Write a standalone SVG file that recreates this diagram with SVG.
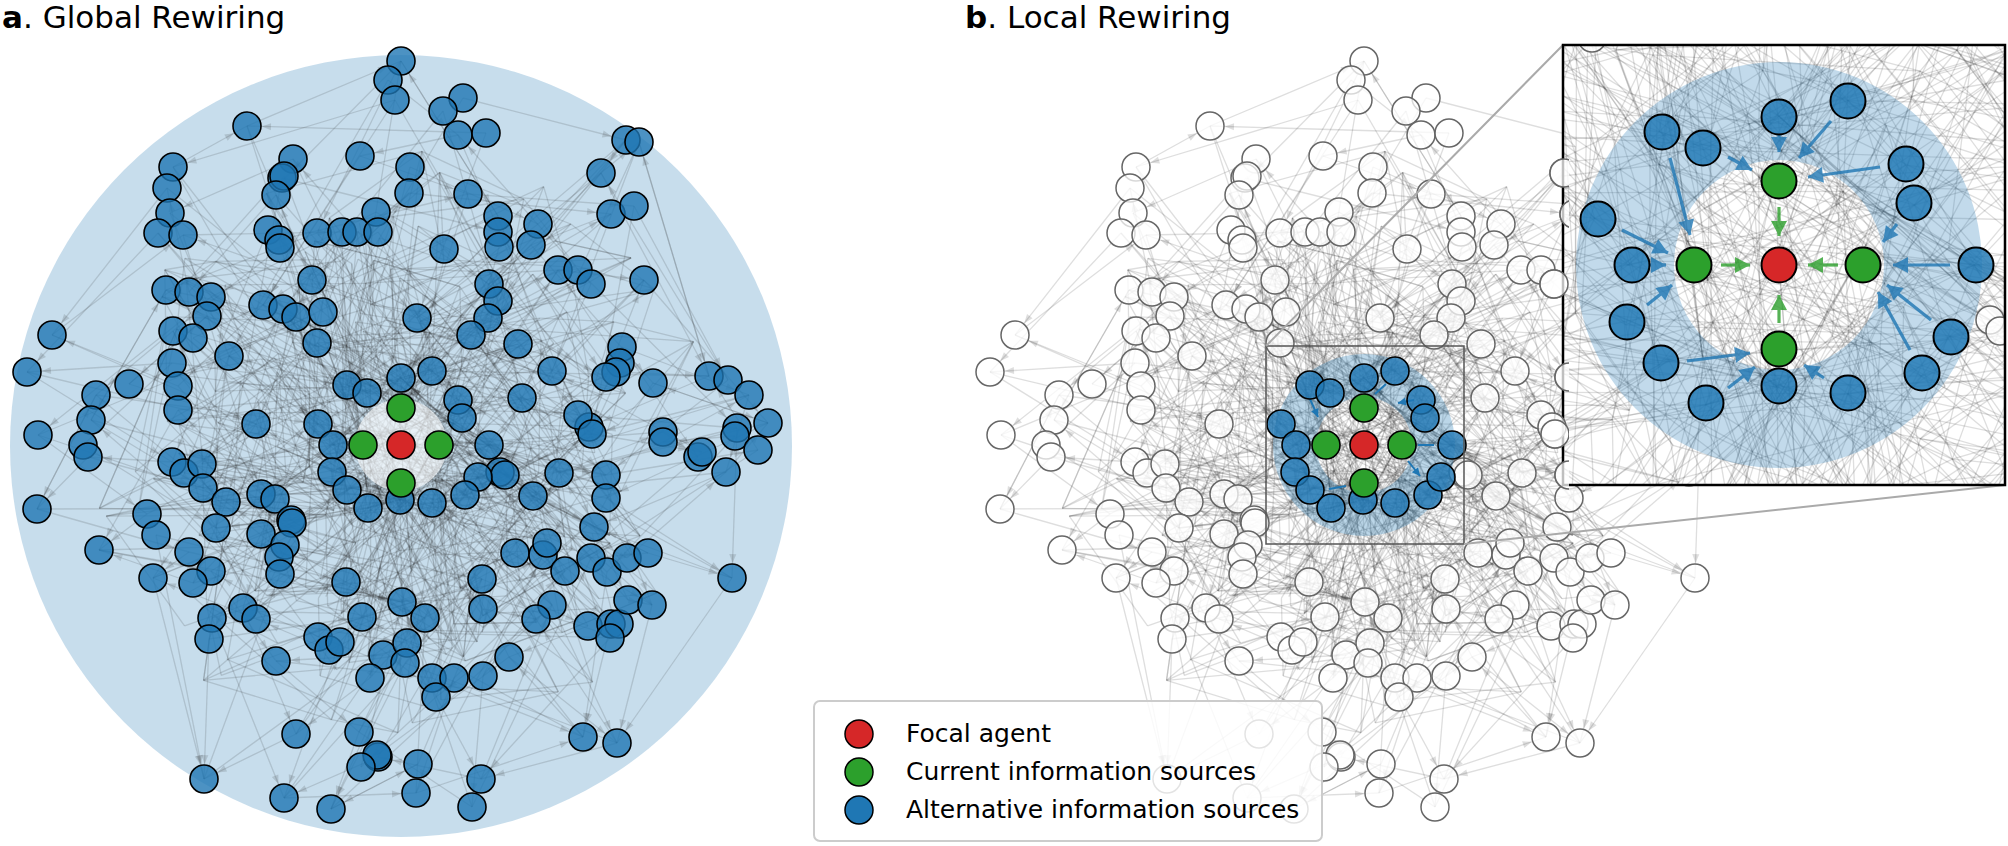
<svg xmlns="http://www.w3.org/2000/svg" xmlns:xlink="http://www.w3.org/1999/xlink" width="2008" height="846" viewBox="0 0 2008 846">
<style>
text{font-family:"DejaVu Sans","Liberation Sans",sans-serif;fill:#000}
.bn circle{fill:#1f77b4;fill-opacity:.8;stroke:#000;stroke-width:1.6}
.wn circle{fill:#fff;fill-opacity:.75;stroke:#666;stroke-width:1.5}
.gn circle{fill:#2ca02c;stroke:#000;stroke-width:1.6}
.rn circle{fill:#d62728;stroke:#000;stroke-width:1.6}
.ibn circle{fill:#1f77b4;fill-opacity:.82;stroke:#000;stroke-width:2}
.ign circle{fill:#2ca02c;stroke:#000;stroke-width:2}
.irn circle{fill:#d62728;stroke:#000;stroke-width:2}
#E path{vector-effect:non-scaling-stroke}
</style>
<defs>
<marker id="ah" markerUnits="userSpaceOnUse" markerWidth="1" markerHeight="1" orient="auto" overflow="visible"><path d="M-24-3.5L-15 0L-24 3.5z" fill="#222" fill-opacity=".15"/></marker>
<marker id="bh" markerUnits="userSpaceOnUse" markerWidth="1" markerHeight="1" orient="auto" overflow="visible"><path d="M-15-8L0 0L-15 8z" fill="#1f77b4"/></marker>
<marker id="gh" markerUnits="userSpaceOnUse" markerWidth="1" markerHeight="1" orient="auto" overflow="visible"><path d="M-15-8L0 0L-15 8z" fill="#2ca02c"/></marker>
<marker id="sh" markerUnits="userSpaceOnUse" markerWidth="1" markerHeight="1" orient="auto" overflow="visible"><path d="M-8-4L0 0L-8 4z" fill="#1f77b4"/></marker>
<clipPath id="ic"><rect x="1563" y="45" width="442" height="440"/></clipPath>
<clipPath id="lc"><rect x="1500" y="0" width="69" height="846"/></clipPath>
<g id="E" fill="none" stroke="#222" stroke-opacity=".15" stroke-width="1.3">
<path d="M401 61L283 180"/><path d="M401 61L498 216"/><path d="M401 61L347 385"/><path d="M388 80L229 356"/><path d="M388 80L458 135"/><path d="M395 100L552 371"/><path d="M395 100L173 167"/><path d="M463 98L317 343"/><path d="M463 98L626 140"/><path d="M443 111L283 309"/><path d="M443 111L498 301"/><path d="M458 135L360 156"/><path d="M458 135L578 415"/><path d="M486 133L417 318"/><path d="M486 133L247 126"/><path d="M626 140L489 284"/><path d="M626 140L601 173"/><path d="M626 140L432 371"/><path d="M639 142L522 398"/><path d="M639 142L709 376"/><path d="M247 126L401 61"/><path d="M247 126L312 280"/><path d="M360 156L263 305"/><path d="M360 156L468 194"/><path d="M410 167L332 472"/><path d="M410 167L538 224"/><path d="M173 167L283 309"/><path d="M173 167L247 126"/><path d="M293 159L401 378"/><path d="M293 159L170 213"/><path d="M282 178L498 232"/><path d="M282 178L216 528"/><path d="M284 176L367 393"/><path d="M276 195L189 292"/><path d="M276 195L458 400"/><path d="M167 188L323 312"/><path d="M167 188L52 335"/><path d="M170 213L296 317"/><path d="M170 213L229 356"/><path d="M158 233L318 424"/><path d="M158 233L27 372"/><path d="M183 235L261 494"/><path d="M183 235L342 232"/><path d="M268 230L432 371"/><path d="M268 230L172 462"/><path d="M279 240L468 194"/><path d="M279 240L347 490"/><path d="M280 248L173 331"/><path d="M317 233L533 496"/><path d="M317 233L166 290"/><path d="M342 232L256 424"/><path d="M342 232L417 318"/><path d="M357 232L400 500"/><path d="M357 232L293 159"/><path d="M376 212L489 284"/><path d="M376 212L211 297"/><path d="M378 232L263 305"/><path d="M378 232L559 473"/><path d="M409 193L312 280"/><path d="M409 193L611 214"/><path d="M601 173L498 301"/><path d="M601 173L709 376"/><path d="M468 194L368 508"/><path d="M468 194L634 206"/><path d="M611 214L471 335"/><path d="M611 214L531 245"/><path d="M634 206L592 434"/><path d="M634 206L728 380"/><path d="M498 216L283 309"/><path d="M498 216L401 61"/><path d="M498 232L606 377"/><path d="M498 232L347 385"/><path d="M499 247L432 503"/><path d="M538 224L417 318"/><path d="M538 224L639 142"/><path d="M531 245L333 445"/><path d="M531 245L653 383"/><path d="M444 249L229 356"/><path d="M444 249L578 415"/><path d="M558 270L462 418"/><path d="M558 270L644 280"/><path d="M578 270L488 318"/><path d="M578 270L737 428"/><path d="M591 284L505 475"/><path d="M591 284L458 135"/><path d="M644 280L552 371"/><path d="M644 280L768 423"/><path d="M312 280L478 477"/><path d="M312 280L183 235"/><path d="M166 290L296 317"/><path d="M166 290L91 420"/><path d="M189 292L318 424"/><path d="M189 292L167 188"/><path d="M211 297L367 393"/><path d="M211 297L38 435"/><path d="M207 316L332 472"/><path d="M207 316L129 384"/><path d="M263 305L432 371"/><path d="M263 305L178 386"/><path d="M283 309L462 418"/><path d="M283 309L226 502"/><path d="M296 317L347 490"/><path d="M296 317L409 193"/><path d="M323 312L401 378"/><path d="M323 312L276 195"/><path d="M317 343L489 445"/><path d="M317 343L202 464"/><path d="M317 343L471 335"/><path d="M173 331L261 494"/><path d="M173 331L96 395"/><path d="M193 338L333 445"/><path d="M193 338L263 305"/><path d="M229 356L400 500"/><path d="M229 356L318 424"/><path d="M229 356L184 473"/><path d="M172 363L347 385"/><path d="M172 363L27 372"/><path d="M178 386L275 499"/><path d="M178 386L52 335"/><path d="M178 410L367 393"/><path d="M178 410L99 550"/><path d="M129 384L256 424"/><path d="M129 384L207 316"/><path d="M96 395L226 502"/><path d="M96 395L37 509"/><path d="M91 420L203 488"/><path d="M91 420L166 290"/><path d="M52 335L183 235"/><path d="M52 335L256 424"/><path d="M27 372L172 462"/><path d="M38 435L147 514"/><path d="M38 435L229 356"/><path d="M256 424L432 371"/><path d="M256 424L291 520"/><path d="M256 424L153 578"/><path d="M318 424L489 445"/><path d="M318 424L283 309"/><path d="M318 424L261 534"/><path d="M347 385L500 472"/><path d="M347 385L226 502"/><path d="M367 393L465 495"/><path d="M367 393L229 356"/><path d="M367 393L522 398"/><path d="M401 378L296 317"/><path d="M401 378L505 475"/><path d="M401 378L318 424"/><path d="M489 284L400 500"/><path d="M489 284L611 214"/><path d="M498 301L347 490"/><path d="M498 301L558 270"/><path d="M488 318L333 445"/><path d="M488 318L606 377"/><path d="M471 335L367 393"/><path d="M471 335L592 434"/><path d="M417 318L458 400"/><path d="M417 318L312 280"/><path d="M518 344L401 378"/><path d="M518 344L594 527"/><path d="M622 347L478 477"/><path d="M622 347L749 395"/><path d="M620 363L432 503"/><path d="M620 363L558 270"/><path d="M616 372L533 496"/><path d="M616 372L709 376"/><path d="M606 377L462 418"/><path d="M606 377L644 280"/><path d="M653 383L547 543"/><path d="M653 383L768 423"/><path d="M709 376L589 427"/><path d="M709 376L639 142"/><path d="M728 380L606 475"/><path d="M728 380L601 173"/><path d="M749 395L592 434"/><path d="M749 395L726 472"/><path d="M768 423L606 498"/><path d="M768 423L653 383"/><path d="M737 428L578 415"/><path d="M737 428L732 578"/><path d="M663 432L489 445"/><path d="M663 432L698 457"/><path d="M589 427L368 508"/><path d="M589 427L622 347"/><path d="M578 415L432 371"/><path d="M578 415L652 605"/><path d="M552 371L400 500"/><path d="M552 371L498 216"/><path d="M522 398L333 445"/><path d="M522 398L606 475"/><path d="M432 371L368 508"/><path d="M432 371L518 344"/><path d="M458 400L332 472"/><path d="M458 400L578 415"/><path d="M462 418L347 385"/><path d="M462 418L543 555"/><path d="M83 445L216 528"/><path d="M83 445L172 363"/><path d="M88 457L203 488"/><path d="M88 457L37 509"/><path d="M37 509L189 552"/><path d="M37 509L96 395"/><path d="M99 550L285 545"/><path d="M99 550L211 571"/><path d="M147 514L318 424"/><path d="M147 514L99 550"/><path d="M156 535L346 582"/><path d="M156 535L204 779"/><path d="M172 462L347 490"/><path d="M172 462L88 457"/><path d="M184 473L400 500"/><path d="M184 473L256 424"/><path d="M202 464L333 445"/><path d="M202 464L283 309"/><path d="M203 488L362 617"/><path d="M203 488L229 356"/><path d="M226 502L432 503"/><path d="M226 502L193 583"/><path d="M216 528L368 508"/><path d="M216 528L91 420"/><path d="M189 552L402 602"/><path d="M189 552L153 578"/><path d="M211 571L347 490"/><path d="M211 571L276 661"/><path d="M193 583L275 499"/><path d="M193 583L99 550"/><path d="M153 578L291 520"/><path d="M153 578L204 779"/><path d="M261 494L465 495"/><path d="M261 494L178 410"/><path d="M275 499L401 378"/><path d="M275 499L243 608"/><path d="M291 520L432 503"/><path d="M291 520L216 528"/><path d="M292 523L500 472"/><path d="M261 534L400 500"/><path d="M261 534L209 639"/><path d="M285 545L482 579"/><path d="M285 545L226 502"/><path d="M279 557L425 618"/><path d="M279 557L173 331"/><path d="M280 574L402 602"/><path d="M280 574L212 618"/><path d="M243 608L368 508"/><path d="M243 608L296 734"/><path d="M256 619L407 643"/><path d="M256 619L153 578"/><path d="M212 618L346 582"/><path d="M212 618L284 798"/><path d="M209 639L362 617"/><path d="M209 639L204 779"/><path d="M276 661L432 678"/><path d="M276 661L359 732"/><path d="M318 637L478 477"/><path d="M318 637L211 571"/><path d="M329 650L482 579"/><path d="M329 650L256 619"/><path d="M340 642L465 495"/><path d="M340 642L284 798"/><path d="M346 582L500 472"/><path d="M346 582L285 545"/><path d="M362 617L515 553"/><path d="M362 617L332 472"/><path d="M383 655L543 555"/><path d="M383 655L276 661"/><path d="M370 678L533 496"/><path d="M370 678L296 734"/><path d="M402 602L432 503"/><path d="M402 602L565 571"/><path d="M407 643L347 490"/><path d="M407 643L481 779"/><path d="M405 663L589 427"/><path d="M405 663L331 809"/><path d="M333 445L462 418"/><path d="M333 445L261 494"/><path d="M332 472L478 477"/><path d="M332 472L256 424"/><path d="M347 490L458 400"/><path d="M347 490L291 520"/><path d="M368 508L489 445"/><path d="M368 508L346 582"/><path d="M400 500L533 496"/><path d="M400 500L367 393"/><path d="M400 500L402 602"/><path d="M296 734L362 617"/><path d="M296 734L204 779"/><path d="M359 732L425 618"/><path d="M359 732L331 809"/><path d="M378 757L482 579"/><path d="M378 757L284 798"/><path d="M377 755L509 657"/><path d="M361 767L402 602"/><path d="M204 779L280 574"/><path d="M284 798L383 655"/><path d="M284 798L416 793"/><path d="M331 809L407 643"/><path d="M331 809L418 764"/><path d="M489 445L347 490"/><path d="M489 445L606 475"/><path d="M489 445L417 318"/><path d="M500 472L368 508"/><path d="M500 472L594 527"/><path d="M505 475L401 378"/><path d="M478 477L333 445"/><path d="M478 477L552 605"/><path d="M465 495L318 424"/><path d="M465 495L591 558"/><path d="M432 503L318 424"/><path d="M432 503L536 619"/><path d="M533 496L401 378"/><path d="M533 496L648 553"/><path d="M559 473L432 371"/><path d="M559 473L663 432"/><path d="M592 434L465 495"/><path d="M592 434L702 452"/><path d="M606 475L432 503"/><path d="M606 475L758 450"/><path d="M606 498L478 477"/><path d="M606 498L732 578"/><path d="M594 527L462 418"/><path d="M594 527L628 600"/><path d="M663 442L533 496"/><path d="M663 442L749 395"/><path d="M698 457L565 571"/><path d="M698 457L622 347"/><path d="M702 452L552 371"/><path d="M735 436L607 572"/><path d="M735 436L663 442"/><path d="M758 450L591 558"/><path d="M758 450L709 376"/><path d="M726 472L594 527"/><path d="M726 472L768 423"/><path d="M515 553L402 602"/><path d="M515 553L559 473"/><path d="M543 555L432 503"/><path d="M543 555L611 624"/><path d="M547 543L400 500"/><path d="M547 543L652 605"/><path d="M565 571L489 445"/><path d="M565 571L483 676"/><path d="M591 558L458 400"/><path d="M591 558L648 553"/><path d="M607 572L505 475"/><path d="M607 572L583 737"/><path d="M627 558L478 477"/><path d="M627 558L726 472"/><path d="M648 553L533 496"/><path d="M648 553L732 578"/><path d="M732 578L594 527"/><path d="M732 578L617 743"/><path d="M482 579L368 508"/><path d="M482 579L588 626"/><path d="M483 609L400 500"/><path d="M483 609L536 619"/><path d="M552 605L432 503"/><path d="M552 605L617 743"/><path d="M536 619L478 477"/><path d="M536 619L436 697"/><path d="M588 626L489 445"/><path d="M588 626L509 657"/><path d="M611 624L515 553"/><path d="M611 624L583 737"/><path d="M619 624L465 495"/><path d="M610 638L543 555"/><path d="M610 638L481 779"/><path d="M628 600L533 496"/><path d="M628 600L652 605"/><path d="M652 605L559 473"/><path d="M652 605L617 743"/><path d="M425 618L489 445"/><path d="M425 618L346 582"/><path d="M432 678L402 602"/><path d="M432 678L583 737"/><path d="M454 678L565 571"/><path d="M454 678L416 793"/><path d="M436 697L482 579"/><path d="M436 697L361 767"/><path d="M483 676L543 555"/><path d="M483 676L472 807"/><path d="M509 657L432 503"/><path d="M509 657L617 743"/><path d="M583 737L483 609"/><path d="M583 737L509 657"/><path d="M617 743L536 619"/><path d="M617 743L481 779"/><path d="M418 764L483 609"/><path d="M418 764L331 809"/><path d="M416 793L425 618"/><path d="M416 793L583 737"/><path d="M481 779L552 605"/><path d="M481 779L378 757"/><path d="M472 807L402 602"/><path d="M472 807L359 732"/><path d="M27 372L333 445"/><path d="M37 509L368 508"/><path d="M99 550L402 602"/><path d="M38 435L291 520"/><path d="M204 779L425 618"/><path d="M284 798L482 579"/><path d="M331 809L552 605"/><path d="M617 743L405 663"/><path d="M583 737L362 617"/><path d="M732 578L489 445"/><path d="M768 423L559 473"/><path d="M749 395L478 477"/><path d="M709 376L432 371"/><path d="M639 142L552 371"/><path d="M626 140L417 318"/><path d="M401 61L317 233"/><path d="M395 100L263 305"/><path d="M247 126L368 508"/><path d="M173 167L333 445"/><path d="M158 233L400 500"/><path d="M166 290L465 495"/><path d="M91 420L400 500"/><path d="M96 395L318 424"/><path d="M153 578L489 445"/><path d="M193 583L533 496"/><path d="M296 734L478 477"/><path d="M359 732L522 398"/><path d="M416 793L543 555"/><path d="M472 807L591 558"/><path d="M652 605L401 378"/><path d="M726 472L432 503"/><path d="M737 428L465 495"/><path d="M644 280L489 445"/><path d="M601 173L401 378"/><path d="M401 408L317 343"/><path d="M363 445L203 488"/><path d="M439 445L558 270"/><path d="M401 483L370 678"/><path d="M401 445L606 475"/><path d="M263 305L401 445"/><path d="M229 356L401 445"/><path d="M552 605L401 445"/><path d="M489 284L401 408"/><path d="M592 434L439 445"/>
</g>
<g id="E2"><use href="#E" transform="translate(401 445) rotate(77) scale(.6) translate(-401 -445)"/><use href="#E" transform="translate(401 445) rotate(-140) scale(.8) translate(-401 -445)"/></g>
</defs>

<!-- Panel a background -->
<circle cx="401" cy="446" r="391" fill="#1f77b4" fill-opacity=".25"/>

<g id="connectors">
<use href="#E2"/>
<use href="#E2" transform="translate(963 0)"/>
<use href="#E" marker-end="url(#ah)"/>
<use href="#E" transform="translate(963 0)" marker-end="url(#ah)"/>
</g>
<circle cx="401" cy="445" r="46" fill="#fff" fill-opacity=".6"/>

<!-- Panel a nodes -->
<g class="bn">
<g id="a1"><circle cx="401" cy="61" r="14"/></g><g id="a2"><circle cx="388" cy="80" r="14"/></g><g id="a3"><circle cx="395" cy="100" r="14"/></g><g id="a4"><circle cx="463" cy="98" r="14"/></g><g id="a5"><circle cx="443" cy="111" r="14"/></g><g id="a6"><circle cx="458" cy="135" r="14"/></g><g id="a7"><circle cx="486" cy="133" r="14"/></g><g id="a8"><circle cx="626" cy="140" r="14"/></g><g id="a9"><circle cx="639" cy="142" r="14"/></g><g id="a10"><circle cx="247" cy="126" r="14"/></g>
<g id="a11"><circle cx="360" cy="156" r="14"/></g><g id="a12"><circle cx="410" cy="167" r="14"/></g><g id="a13"><circle cx="173" cy="167" r="14"/></g><g id="a14"><circle cx="293" cy="159" r="14"/></g><g id="a15"><circle cx="282" cy="178" r="14"/></g><g id="a16"><circle cx="284" cy="176" r="14"/></g><g id="a17"><circle cx="276" cy="195" r="14"/></g><g id="a18"><circle cx="167" cy="188" r="14"/></g><g id="a19"><circle cx="170" cy="213" r="14"/></g><g id="a20"><circle cx="158" cy="233" r="14"/></g>
<g id="a21"><circle cx="183" cy="235" r="14"/></g><g id="a22"><circle cx="268" cy="230" r="14"/></g><g id="a23"><circle cx="279" cy="240" r="14"/></g><g id="a24"><circle cx="280" cy="248" r="14"/></g><g id="a25"><circle cx="317" cy="233" r="14"/></g><g id="a26"><circle cx="342" cy="232" r="14"/></g><g id="a27"><circle cx="357" cy="232" r="14"/></g><g id="a28"><circle cx="376" cy="212" r="14"/></g><g id="a29"><circle cx="378" cy="232" r="14"/></g><g id="a30"><circle cx="409" cy="193" r="14"/></g>
<g id="a31"><circle cx="601" cy="173" r="14"/></g><g id="a32"><circle cx="468" cy="194" r="14"/></g><g id="a33"><circle cx="611" cy="214" r="14"/></g><g id="a34"><circle cx="634" cy="206" r="14"/></g><g id="a35"><circle cx="498" cy="216" r="14"/></g><g id="a36"><circle cx="498" cy="232" r="14"/></g><g id="a37"><circle cx="499" cy="247" r="14"/></g><g id="a38"><circle cx="538" cy="224" r="14"/></g><g id="a39"><circle cx="531" cy="245" r="14"/></g><g id="a40"><circle cx="444" cy="249" r="14"/></g>
<g id="a41"><circle cx="558" cy="270" r="14"/></g><g id="a42"><circle cx="578" cy="270" r="14"/></g><g id="a43"><circle cx="591" cy="284" r="14"/></g><g id="a44"><circle cx="644" cy="280" r="14"/></g><g id="a45"><circle cx="312" cy="280" r="14"/></g><g id="a46"><circle cx="166" cy="290" r="14"/></g><g id="a47"><circle cx="189" cy="292" r="14"/></g><g id="a48"><circle cx="211" cy="297" r="14"/></g><g id="a49"><circle cx="207" cy="316" r="14"/></g><g id="a50"><circle cx="263" cy="305" r="14"/></g>
<g id="a51"><circle cx="283" cy="309" r="14"/></g><g id="a52"><circle cx="296" cy="317" r="14"/></g><g id="a53"><circle cx="323" cy="312" r="14"/></g><g id="a54"><circle cx="317" cy="343" r="14"/></g><g id="a55"><circle cx="173" cy="331" r="14"/></g><g id="a56"><circle cx="193" cy="338" r="14"/></g><g id="a57"><circle cx="229" cy="356" r="14"/></g><g id="a58"><circle cx="172" cy="363" r="14"/></g><g id="a59"><circle cx="178" cy="386" r="14"/></g><g id="a60"><circle cx="178" cy="410" r="14"/></g>
<g id="a61"><circle cx="129" cy="384" r="14"/></g><g id="a62"><circle cx="96" cy="395" r="14"/></g><g id="a63"><circle cx="91" cy="420" r="14"/></g><g id="a64"><circle cx="52" cy="335" r="14"/></g><g id="a65"><circle cx="27" cy="372" r="14"/></g><g id="a66"><circle cx="38" cy="435" r="14"/></g><g id="a67"><circle cx="256" cy="424" r="14"/></g><g id="a68"><circle cx="318" cy="424" r="14"/></g><g id="a69"><circle cx="347" cy="385" r="14"/></g><g id="a70"><circle cx="367" cy="393" r="14"/></g>
<g id="a71"><circle cx="401" cy="378" r="14"/></g><g id="a72"><circle cx="489" cy="284" r="14"/></g><g id="a73"><circle cx="498" cy="301" r="14"/></g><g id="a74"><circle cx="488" cy="318" r="14"/></g><g id="a75"><circle cx="471" cy="335" r="14"/></g><g id="a76"><circle cx="417" cy="318" r="14"/></g><g id="a77"><circle cx="518" cy="344" r="14"/></g><g id="a78"><circle cx="622" cy="347" r="14"/></g><g id="a79"><circle cx="620" cy="363" r="14"/></g><g id="a80"><circle cx="616" cy="372" r="14"/></g>
<g id="a81"><circle cx="606" cy="377" r="14"/></g><g id="a82"><circle cx="653" cy="383" r="14"/></g><g id="a83"><circle cx="709" cy="376" r="14"/></g><g id="a84"><circle cx="728" cy="380" r="14"/></g><g id="a85"><circle cx="749" cy="395" r="14"/></g><g id="a86"><circle cx="768" cy="423" r="14"/></g><g id="a87"><circle cx="737" cy="428" r="14"/></g><g id="a88"><circle cx="735" cy="436" r="14"/></g><g id="a89"><circle cx="663" cy="432" r="14"/></g><g id="a90"><circle cx="589" cy="427" r="14"/></g>
<g id="a91"><circle cx="578" cy="415" r="14"/></g><g id="a92"><circle cx="552" cy="371" r="14"/></g><g id="a93"><circle cx="522" cy="398" r="14"/></g><g id="a94"><circle cx="432" cy="371" r="14"/></g><g id="a95"><circle cx="458" cy="400" r="14"/></g><g id="a96"><circle cx="462" cy="418" r="14"/></g><g id="a97"><circle cx="83" cy="445" r="14"/></g><g id="a98"><circle cx="88" cy="457" r="14"/></g><g id="a99"><circle cx="37" cy="509" r="14"/></g><g id="a100"><circle cx="99" cy="550" r="14"/></g>
<g id="a101"><circle cx="147" cy="514" r="14"/></g><g id="a102"><circle cx="156" cy="535" r="14"/></g><g id="a103"><circle cx="172" cy="462" r="14"/></g><g id="a104"><circle cx="184" cy="473" r="14"/></g><g id="a105"><circle cx="202" cy="464" r="14"/></g><g id="a106"><circle cx="203" cy="488" r="14"/></g><g id="a107"><circle cx="226" cy="502" r="14"/></g><g id="a108"><circle cx="216" cy="528" r="14"/></g><g id="a109"><circle cx="189" cy="552" r="14"/></g><g id="a110"><circle cx="211" cy="571" r="14"/></g>
<g id="a111"><circle cx="193" cy="583" r="14"/></g><g id="a112"><circle cx="153" cy="578" r="14"/></g><g id="a113"><circle cx="261" cy="494" r="14"/></g><g id="a114"><circle cx="275" cy="499" r="14"/></g><g id="a115"><circle cx="291" cy="520" r="14"/></g><g id="a116"><circle cx="292" cy="523" r="14"/></g><g id="a117"><circle cx="261" cy="534" r="14"/></g><g id="a118"><circle cx="285" cy="545" r="14"/></g><g id="a119"><circle cx="279" cy="557" r="14"/></g><g id="a120"><circle cx="280" cy="574" r="14"/></g>
<g id="a121"><circle cx="243" cy="608" r="14"/></g><g id="a122"><circle cx="256" cy="619" r="14"/></g><g id="a123"><circle cx="212" cy="618" r="14"/></g><g id="a124"><circle cx="209" cy="639" r="14"/></g><g id="a125"><circle cx="276" cy="661" r="14"/></g><g id="a126"><circle cx="318" cy="637" r="14"/></g><g id="a127"><circle cx="329" cy="650" r="14"/></g><g id="a128"><circle cx="340" cy="642" r="14"/></g><g id="a129"><circle cx="346" cy="582" r="14"/></g><g id="a130"><circle cx="362" cy="617" r="14"/></g>
<g id="a131"><circle cx="383" cy="655" r="14"/></g><g id="a132"><circle cx="370" cy="678" r="14"/></g><g id="a133"><circle cx="402" cy="602" r="14"/></g><g id="a134"><circle cx="407" cy="643" r="14"/></g><g id="a135"><circle cx="405" cy="663" r="14"/></g><g id="a136"><circle cx="333" cy="445" r="14"/></g><g id="a137"><circle cx="332" cy="472" r="14"/></g><g id="a138"><circle cx="347" cy="490" r="14"/></g><g id="a139"><circle cx="368" cy="508" r="14"/></g><g id="a140"><circle cx="400" cy="500" r="14"/></g>
<g id="a141"><circle cx="296" cy="734" r="14"/></g><g id="a142"><circle cx="359" cy="732" r="14"/></g><g id="a143"><circle cx="378" cy="757" r="14"/></g><g id="a144"><circle cx="377" cy="755" r="14"/></g><g id="a145"><circle cx="361" cy="767" r="14"/></g><g id="a146"><circle cx="204" cy="779" r="14"/></g><g id="a147"><circle cx="284" cy="798" r="14"/></g><g id="a148"><circle cx="331" cy="809" r="14"/></g><g id="a149"><circle cx="489" cy="445" r="14"/></g><g id="a150"><circle cx="500" cy="472" r="14"/></g>
<g id="a151"><circle cx="505" cy="475" r="14"/></g><g id="a152"><circle cx="478" cy="477" r="14"/></g><g id="a153"><circle cx="465" cy="495" r="14"/></g><g id="a154"><circle cx="432" cy="503" r="14"/></g><g id="a155"><circle cx="533" cy="496" r="14"/></g><g id="a156"><circle cx="559" cy="473" r="14"/></g><g id="a157"><circle cx="592" cy="434" r="14"/></g><g id="a158"><circle cx="606" cy="475" r="14"/></g><g id="a159"><circle cx="606" cy="498" r="14"/></g><g id="a160"><circle cx="594" cy="527" r="14"/></g>
<g id="a161"><circle cx="663" cy="442" r="14"/></g><g id="a162"><circle cx="698" cy="457" r="14"/></g><g id="a163"><circle cx="702" cy="452" r="14"/></g><g id="a164"><circle cx="758" cy="450" r="14"/></g><g id="a165"><circle cx="726" cy="472" r="14"/></g><g id="a166"><circle cx="515" cy="553" r="14"/></g><g id="a167"><circle cx="543" cy="555" r="14"/></g><g id="a168"><circle cx="547" cy="543" r="14"/></g><g id="a169"><circle cx="565" cy="571" r="14"/></g><g id="a170"><circle cx="591" cy="558" r="14"/></g>
<g id="a171"><circle cx="607" cy="572" r="14"/></g><g id="a172"><circle cx="627" cy="558" r="14"/></g><g id="a173"><circle cx="648" cy="553" r="14"/></g><g id="a174"><circle cx="732" cy="578" r="14"/></g><g id="a175"><circle cx="482" cy="579" r="14"/></g><g id="a176"><circle cx="483" cy="609" r="14"/></g><g id="a177"><circle cx="552" cy="605" r="14"/></g><g id="a178"><circle cx="536" cy="619" r="14"/></g><g id="a179"><circle cx="588" cy="626" r="14"/></g><g id="a180"><circle cx="611" cy="624" r="14"/></g>
<g id="a181"><circle cx="619" cy="624" r="14"/></g><g id="a182"><circle cx="610" cy="638" r="14"/></g><g id="a183"><circle cx="628" cy="600" r="14"/></g><g id="a184"><circle cx="652" cy="605" r="14"/></g><g id="a185"><circle cx="425" cy="618" r="14"/></g><g id="a186"><circle cx="432" cy="678" r="14"/></g><g id="a187"><circle cx="454" cy="678" r="14"/></g><g id="a188"><circle cx="436" cy="697" r="14"/></g><g id="a189"><circle cx="483" cy="676" r="14"/></g><g id="a190"><circle cx="509" cy="657" r="14"/></g>
<g id="a191"><circle cx="583" cy="737" r="14"/></g><g id="a192"><circle cx="617" cy="743" r="14"/></g><g id="a193"><circle cx="418" cy="764" r="14"/></g><g id="a194"><circle cx="416" cy="793" r="14"/></g><g id="a195"><circle cx="481" cy="779" r="14"/></g><g id="a196"><circle cx="472" cy="807" r="14"/></g>
</g>
<g class="gn"><g id="a-g1"><circle cx="401" cy="408" r="14"/></g><g id="a-g2"><circle cx="363" cy="445" r="14"/></g><g id="a-g3"><circle cx="439" cy="445" r="14"/></g><g id="a-g4"><circle cx="401" cy="483" r="14"/></g></g>
<g class="rn"><g id="a-focal"><circle cx="401" cy="445" r="14"/></g></g>

<!-- Panel b nodes (white) -->
<g class="wn">
<g id="b1"><circle cx="1364" cy="61" r="14"/></g><g id="b2"><circle cx="1351" cy="80" r="14"/></g><g id="b3"><circle cx="1358" cy="100" r="14"/></g><g id="b4"><circle cx="1426" cy="98" r="14"/></g><g id="b5"><circle cx="1406" cy="111" r="14"/></g><g id="b6"><circle cx="1421" cy="135" r="14"/></g><g id="b7"><circle cx="1449" cy="133" r="14"/></g><g id="b8"><circle cx="1589" cy="140" r="14"/></g><g id="b9"><circle cx="1602" cy="142" r="14"/></g><g id="b10"><circle cx="1210" cy="126" r="14"/></g>
<g id="b11"><circle cx="1323" cy="156" r="14"/></g><g id="b12"><circle cx="1373" cy="167" r="14"/></g><g id="b13"><circle cx="1136" cy="167" r="14"/></g><g id="b14"><circle cx="1256" cy="159" r="14"/></g><g id="b15"><circle cx="1245" cy="178" r="14"/></g><g id="b16"><circle cx="1247" cy="176" r="14"/></g><g id="b17"><circle cx="1239" cy="195" r="14"/></g><g id="b18"><circle cx="1130" cy="188" r="14"/></g><g id="b19"><circle cx="1133" cy="213" r="14"/></g><g id="b20"><circle cx="1121" cy="233" r="14"/></g>
<g id="b21"><circle cx="1146" cy="235" r="14"/></g><g id="b22"><circle cx="1231" cy="230" r="14"/></g><g id="b23"><circle cx="1242" cy="240" r="14"/></g><g id="b24"><circle cx="1243" cy="248" r="14"/></g><g id="b25"><circle cx="1280" cy="233" r="14"/></g><g id="b26"><circle cx="1305" cy="232" r="14"/></g><g id="b27"><circle cx="1320" cy="232" r="14"/></g><g id="b28"><circle cx="1339" cy="212" r="14"/></g><g id="b29"><circle cx="1341" cy="232" r="14"/></g><g id="b30"><circle cx="1372" cy="193" r="14"/></g>
<g id="b31"><circle cx="1564" cy="173" r="14"/></g><g id="b32"><circle cx="1431" cy="194" r="14"/></g><g id="b33"><circle cx="1574" cy="214" r="14"/></g><g id="b34"><circle cx="1597" cy="206" r="14"/></g><g id="b35"><circle cx="1461" cy="216" r="14"/></g><g id="b36"><circle cx="1461" cy="232" r="14"/></g><g id="b37"><circle cx="1462" cy="247" r="14"/></g><g id="b38"><circle cx="1501" cy="224" r="14"/></g><g id="b39"><circle cx="1494" cy="245" r="14"/></g><g id="b40"><circle cx="1407" cy="249" r="14"/></g>
<g id="b41"><circle cx="1521" cy="270" r="14"/></g><g id="b42"><circle cx="1541" cy="270" r="14"/></g><g id="b43"><circle cx="1554" cy="284" r="14"/></g><g id="b44"><circle cx="1607" cy="280" r="14"/></g><g id="b45"><circle cx="1275" cy="280" r="14"/></g><g id="b46"><circle cx="1129" cy="290" r="14"/></g><g id="b47"><circle cx="1152" cy="292" r="14"/></g><g id="b48"><circle cx="1174" cy="297" r="14"/></g><g id="b49"><circle cx="1170" cy="316" r="14"/></g><g id="b50"><circle cx="1226" cy="305" r="14"/></g>
<g id="b51"><circle cx="1246" cy="309" r="14"/></g><g id="b52"><circle cx="1259" cy="317" r="14"/></g><g id="b53"><circle cx="1286" cy="312" r="14"/></g><g id="b54"><circle cx="1280" cy="343" r="14"/></g><g id="b55"><circle cx="1136" cy="331" r="14"/></g><g id="b56"><circle cx="1156" cy="338" r="14"/></g><g id="b57"><circle cx="1192" cy="356" r="14"/></g><g id="b58"><circle cx="1135" cy="363" r="14"/></g><g id="b59"><circle cx="1141" cy="386" r="14"/></g><g id="b60"><circle cx="1141" cy="410" r="14"/></g>
<g id="b61"><circle cx="1092" cy="384" r="14"/></g><g id="b62"><circle cx="1059" cy="395" r="14"/></g><g id="b63"><circle cx="1054" cy="420" r="14"/></g><g id="b64"><circle cx="1015" cy="335" r="14"/></g><g id="b65"><circle cx="990" cy="372" r="14"/></g><g id="b66"><circle cx="1001" cy="435" r="14"/></g><g id="b67"><circle cx="1219" cy="424" r="14"/></g>
<g id="b72"><circle cx="1452" cy="284" r="14"/></g><g id="b73"><circle cx="1461" cy="301" r="14"/></g><g id="b74"><circle cx="1451" cy="318" r="14"/></g><g id="b75"><circle cx="1434" cy="335" r="14"/></g><g id="b76"><circle cx="1380" cy="318" r="14"/></g><g id="b77"><circle cx="1481" cy="344" r="14"/></g><g id="b78"><circle cx="1585" cy="347" r="14"/></g><g id="b79"><circle cx="1583" cy="363" r="14"/></g><g id="b80"><circle cx="1579" cy="372" r="14"/></g>
<g id="b81"><circle cx="1569" cy="377" r="14"/></g><g id="b82"><circle cx="1616" cy="383" r="14"/></g><g id="b83"><circle cx="1672" cy="376" r="14"/></g><g id="b84"><circle cx="1691" cy="380" r="14"/></g><g id="b85"><circle cx="1712" cy="395" r="14"/></g><g id="b86"><circle cx="1731" cy="423" r="14"/></g><g id="b87"><circle cx="1700" cy="428" r="14"/></g><g id="b88"><circle cx="1698" cy="436" r="14"/></g><g id="b89"><circle cx="1626" cy="432" r="14"/></g><g id="b90"><circle cx="1552" cy="427" r="14"/></g>
<g id="b91"><circle cx="1541" cy="415" r="14"/></g><g id="b92"><circle cx="1515" cy="371" r="14"/></g><g id="b93"><circle cx="1485" cy="398" r="14"/></g><g id="b97"><circle cx="1046" cy="445" r="14"/></g><g id="b98"><circle cx="1051" cy="457" r="14"/></g><g id="b99"><circle cx="1000" cy="509" r="14"/></g><g id="b100"><circle cx="1062" cy="550" r="14"/></g>
<g id="b101"><circle cx="1110" cy="514" r="14"/></g><g id="b102"><circle cx="1119" cy="535" r="14"/></g><g id="b103"><circle cx="1135" cy="462" r="14"/></g><g id="b104"><circle cx="1147" cy="473" r="14"/></g><g id="b105"><circle cx="1165" cy="464" r="14"/></g><g id="b106"><circle cx="1166" cy="488" r="14"/></g><g id="b107"><circle cx="1189" cy="502" r="14"/></g><g id="b108"><circle cx="1179" cy="528" r="14"/></g><g id="b109"><circle cx="1152" cy="552" r="14"/></g><g id="b110"><circle cx="1174" cy="571" r="14"/></g>
<g id="b111"><circle cx="1156" cy="583" r="14"/></g><g id="b112"><circle cx="1116" cy="578" r="14"/></g><g id="b113"><circle cx="1224" cy="494" r="14"/></g><g id="b114"><circle cx="1238" cy="499" r="14"/></g><g id="b115"><circle cx="1254" cy="520" r="14"/></g><g id="b116"><circle cx="1255" cy="523" r="14"/></g><g id="b117"><circle cx="1224" cy="534" r="14"/></g><g id="b118"><circle cx="1248" cy="545" r="14"/></g><g id="b119"><circle cx="1242" cy="557" r="14"/></g><g id="b120"><circle cx="1243" cy="574" r="14"/></g>
<g id="b121"><circle cx="1206" cy="608" r="14"/></g><g id="b122"><circle cx="1219" cy="619" r="14"/></g><g id="b123"><circle cx="1175" cy="618" r="14"/></g><g id="b124"><circle cx="1172" cy="639" r="14"/></g><g id="b125"><circle cx="1239" cy="661" r="14"/></g><g id="b126"><circle cx="1281" cy="637" r="14"/></g><g id="b127"><circle cx="1292" cy="650" r="14"/></g><g id="b128"><circle cx="1303" cy="642" r="14"/></g><g id="b129"><circle cx="1309" cy="582" r="14"/></g><g id="b130"><circle cx="1325" cy="617" r="14"/></g>
<g id="b131"><circle cx="1346" cy="655" r="14"/></g><g id="b132"><circle cx="1333" cy="678" r="14"/></g><g id="b133"><circle cx="1365" cy="602" r="14"/></g><g id="b134"><circle cx="1370" cy="643" r="14"/></g><g id="b135"><circle cx="1368" cy="663" r="14"/></g>
<g id="b141"><circle cx="1259" cy="734" r="14"/></g><g id="b142"><circle cx="1322" cy="732" r="14"/></g><g id="b143"><circle cx="1341" cy="757" r="14"/></g><g id="b144"><circle cx="1340" cy="755" r="14"/></g><g id="b145"><circle cx="1324" cy="767" r="14"/></g><g id="b146"><circle cx="1167" cy="779" r="14"/></g><g id="b147"><circle cx="1247" cy="798" r="14"/></g><g id="b148"><circle cx="1294" cy="809" r="14"/></g><g id="b150"><circle cx="1463" cy="472" r="14"/></g>
<g id="b151"><circle cx="1468" cy="475" r="14"/></g><g id="b155"><circle cx="1496" cy="496" r="14"/></g><g id="b156"><circle cx="1522" cy="473" r="14"/></g><g id="b157"><circle cx="1555" cy="434" r="14"/></g><g id="b158"><circle cx="1569" cy="475" r="14"/></g><g id="b159"><circle cx="1569" cy="498" r="14"/></g><g id="b160"><circle cx="1557" cy="527" r="14"/></g>
<g id="b161"><circle cx="1626" cy="442" r="14"/></g><g id="b162"><circle cx="1661" cy="457" r="14"/></g><g id="b163"><circle cx="1665" cy="452" r="14"/></g><g id="b164"><circle cx="1721" cy="450" r="14"/></g><g id="b165"><circle cx="1689" cy="472" r="14"/></g><g id="b166"><circle cx="1478" cy="553" r="14"/></g><g id="b167"><circle cx="1506" cy="555" r="14"/></g><g id="b168"><circle cx="1510" cy="543" r="14"/></g><g id="b169"><circle cx="1528" cy="571" r="14"/></g><g id="b170"><circle cx="1554" cy="558" r="14"/></g>
<g id="b171"><circle cx="1570" cy="572" r="14"/></g><g id="b172"><circle cx="1590" cy="558" r="14"/></g><g id="b173"><circle cx="1611" cy="553" r="14"/></g><g id="b174"><circle cx="1695" cy="578" r="14"/></g><g id="b175"><circle cx="1445" cy="579" r="14"/></g><g id="b176"><circle cx="1446" cy="609" r="14"/></g><g id="b177"><circle cx="1515" cy="605" r="14"/></g><g id="b178"><circle cx="1499" cy="619" r="14"/></g><g id="b179"><circle cx="1551" cy="626" r="14"/></g><g id="b180"><circle cx="1574" cy="624" r="14"/></g>
<g id="b181"><circle cx="1582" cy="624" r="14"/></g><g id="b182"><circle cx="1573" cy="638" r="14"/></g><g id="b183"><circle cx="1591" cy="600" r="14"/></g><g id="b184"><circle cx="1615" cy="605" r="14"/></g><g id="b185"><circle cx="1388" cy="618" r="14"/></g><g id="b186"><circle cx="1395" cy="678" r="14"/></g><g id="b187"><circle cx="1417" cy="678" r="14"/></g><g id="b188"><circle cx="1399" cy="697" r="14"/></g><g id="b189"><circle cx="1446" cy="676" r="14"/></g><g id="b190"><circle cx="1472" cy="657" r="14"/></g>
<g id="b191"><circle cx="1546" cy="737" r="14"/></g><g id="b192"><circle cx="1580" cy="743" r="14"/></g><g id="b193"><circle cx="1381" cy="764" r="14"/></g><g id="b194"><circle cx="1379" cy="793" r="14"/></g><g id="b195"><circle cx="1444" cy="779" r="14"/></g><g id="b196"><circle cx="1435" cy="807" r="14"/></g>
</g>

<!-- Panel b local ring and centre -->
<path d="M1273 445a91 91 0 1 0 182 0a91 91 0 1 0-182 0zM1316 445a48 48 0 1 0 96 0a48 48 0 1 0-96 0z" fill="#1f77b4" fill-opacity=".3" fill-rule="evenodd"/>
<g stroke="#1f77b4" stroke-width="2" marker-end="url(#sh)">
<path d="M1310 399L1318 417"/><path d="M1414 400L1398 403"/><path d="M1386 384L1375 394" marker-end="none"/><path d="M1434 445L1418 445" marker-end="none"/><path d="M1408 461L1420 476"/><path d="M1329 489L1346 486" marker-end="none"/>
</g>
<g class="bn">
<g id="b69"><circle cx="1310" cy="385" r="14"/></g><g id="b70"><circle cx="1330" cy="393" r="14"/></g><g id="b71"><circle cx="1364" cy="378" r="14"/></g><g id="b94"><circle cx="1395" cy="371" r="14"/></g><g id="b95"><circle cx="1421" cy="400" r="14"/></g><g id="b96"><circle cx="1425" cy="418" r="14"/></g><g id="b68"><circle cx="1281" cy="424" r="14"/></g><g id="b136"><circle cx="1296" cy="445" r="14"/></g>
<g id="b149"><circle cx="1452" cy="445" r="14"/></g><g id="b137"><circle cx="1295" cy="472" r="14"/></g><g id="b138"><circle cx="1310" cy="490" r="14"/></g><g id="b139"><circle cx="1331" cy="508" r="14"/></g><g id="b140"><circle cx="1363" cy="500" r="14"/></g><g id="b154"><circle cx="1395" cy="503" r="14"/></g><g id="b153"><circle cx="1428" cy="495" r="14"/></g><g id="b152"><circle cx="1441" cy="477" r="14"/></g>
</g>
<g class="gn"><g id="b-g1"><circle cx="1364" cy="408" r="14"/></g><g id="b-g2"><circle cx="1326" cy="445" r="14"/></g><g id="b-g3"><circle cx="1402" cy="445" r="14"/></g><g id="b-g4"><circle cx="1364" cy="483" r="14"/></g></g>
<g class="rn"><g id="b-focal"><circle cx="1364" cy="445" r="14"/></g></g>

<!-- zoom box and leader lines -->
<rect x="1266" y="346" width="198" height="198" fill="none" stroke="#555" stroke-width="1.5"/>
<path d="M1266 346L1563 45M1464 544L2005 485" stroke="#aaa" stroke-width="2" fill="none"/>

<!-- Inset -->
<g id="inset">
<g clip-path="url(#ic)">
<rect x="1563" y="45" width="442" height="440" fill="#fff"/>
<use href="#E" transform="translate(1779 265) scale(2.22) translate(-401 -445)"/>
<use href="#E2" transform="translate(1779 265) scale(2.22) translate(-401 -445)"/>
<g class="wn"><circle cx="1592" cy="38" r="14"/><circle cx="1990" cy="320" r="14"/><circle cx="2000" cy="331" r="14"/></g>
<path d="M1576 265a203 203 0 1 0 406 0a203 203 0 1 0-406 0zM1674 265a105 105 0 1 0 210 0a105 105 0 1 0-210 0z" fill="#1f77b4" fill-opacity=".27" fill-rule="evenodd"/>
</g>
<g opacity=".8" stroke="#1f77b4" stroke-width="3.2" fill="none" marker-end="url(#bh)">
<path d="M1670 158L1690 235"/><path d="M1728 157L1752 170"/><path d="M1779 134L1779 152"/><path d="M1831 121L1799 158"/><path d="M1880 167L1808 177"/><path d="M1897 224L1883 242"/><path d="M1622 230L1668 253"/><path d="M1650 265L1666 265"/><path d="M1647 305L1672 285"/><path d="M1687 361L1750 353"/><path d="M1728 388L1755 367"/><path d="M1824 378L1804 365"/><path d="M1910 350L1878 292"/><path d="M1931 320L1887 285"/><path d="M1950 265L1893 265"/>
</g>
<g opacity=".8" stroke="#2ca02c" stroke-width="3.2" fill="none" marker-end="url(#gh)">
<path d="M1779 207L1779 236"/><path d="M1721 265L1750 265"/><path d="M1838 265L1808 265"/><path d="M1779 323L1779 295"/>
</g>
<g class="ibn">
<g id="i1"><circle cx="1662" cy="132" r="17.5"/></g><g id="i2"><circle cx="1703" cy="148" r="17.5"/></g><g id="i3"><circle cx="1779" cy="117" r="17.5"/></g><g id="i4"><circle cx="1848" cy="101" r="17.5"/></g><g id="i5"><circle cx="1906" cy="164" r="17.5"/></g><g id="i6"><circle cx="1914" cy="203" r="17.5"/></g><g id="i7"><circle cx="1598" cy="219" r="17.5"/></g><g id="i8"><circle cx="1632" cy="265" r="17.5"/></g>
<g id="i9"><circle cx="1976" cy="265" r="17.5"/></g><g id="i10"><circle cx="1627" cy="322" r="17.5"/></g><g id="i11"><circle cx="1661" cy="363" r="17.5"/></g><g id="i12"><circle cx="1706" cy="403" r="17.5"/></g><g id="i13"><circle cx="1779" cy="386" r="17.5"/></g><g id="i14"><circle cx="1848" cy="393" r="17.5"/></g><g id="i15"><circle cx="1922" cy="373" r="17.5"/></g><g id="i16"><circle cx="1951" cy="337" r="17.5"/></g>
</g>
<g class="ign"><g id="i-g1"><circle cx="1779" cy="181" r="17.5"/></g><g id="i-g2"><circle cx="1694" cy="265" r="17.5"/></g><g id="i-g3"><circle cx="1863" cy="265" r="17.5"/></g><g id="i-g4"><circle cx="1779" cy="349" r="17.5"/></g></g>
<g class="irn"><g id="i-focal"><circle cx="1779" cy="265" r="17.5"/></g></g>
<rect x="1563" y="45" width="442" height="440" fill="none" stroke="#000" stroke-width="2.5"/>
</g>
<g class="wn" clip-path="url(#lc)"><circle cx="1564" cy="173" r="14"/><circle cx="1574" cy="214" r="14"/><circle cx="1554" cy="284" r="14"/><circle cx="1569" cy="377" r="14"/><circle cx="1552" cy="427" r="14"/><circle cx="1555" cy="434" r="14"/><circle cx="1569" cy="475" r="14"/></g>

<!-- Titles -->
<text x="2" y="28" font-size="31"><tspan font-weight="bold">a</tspan>. Global Rewiring</text>
<text x="965" y="28" font-size="31"><tspan font-weight="bold">b</tspan>. Local Rewiring</text>

<!-- Legend -->
<g id="legend">
<rect x="814" y="701" width="508" height="140" rx="6" fill="#fff" fill-opacity=".82" stroke="#ccc" stroke-width="2"/>
<circle cx="859" cy="734" r="14" fill="#d62728" stroke="#000" stroke-width="1.5"/>
<circle cx="859" cy="772" r="14" fill="#2ca02c" stroke="#000" stroke-width="1.5"/>
<circle cx="859" cy="810" r="14" fill="#1f77b4" stroke="#000" stroke-width="1.5"/>
<text x="906" y="742" font-size="25">Focal agent</text>
<text x="906" y="780" font-size="25">Current information sources</text>
<text x="906" y="818" font-size="25">Alternative information sources</text>
</g>
</svg>
